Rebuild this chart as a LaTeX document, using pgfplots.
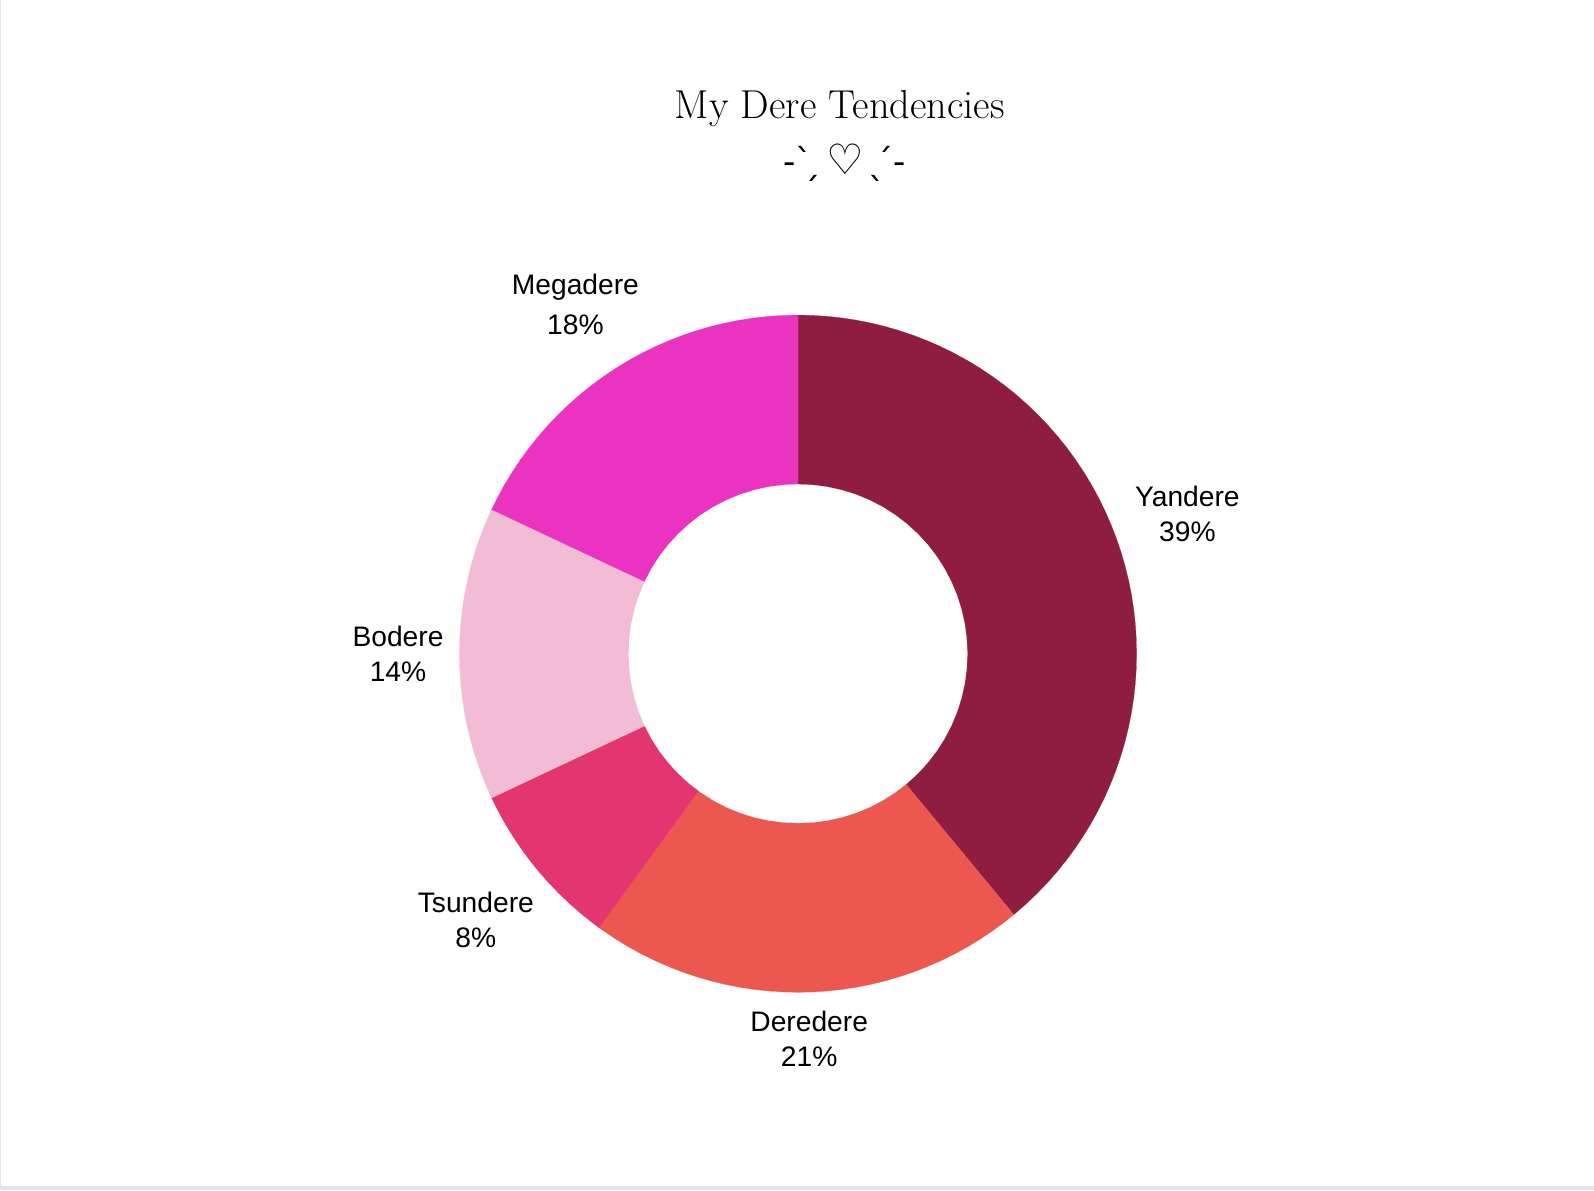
\documentclass[border=0pt]{standalone}
\usepackage{fontspec}
\setmainfont{Liberation Sans}
\newfontfamily\symfont{DejaVu Sans}
\newfontfamily\titlefont{Latin Modern Roman}
\usepackage{pgfplots}
\pgfplotsset{compat=1.18}
\definecolor{yandere}{HTML}{8F1D3F}
\definecolor{deredere}{HTML}{EC5750}
\definecolor{tsundere}{HTML}{E33570}
\definecolor{bodere}{HTML}{F2BCD4}
\definecolor{megadere}{HTML}{EB33C1}
\definecolor{edge}{HTML}{E3E3EB}
\begin{document}
\begin{tikzpicture}[lbl/.style={anchor=base,inner sep=0pt,font=\fontsize{14.1}{17}\selectfont}]
% page, 1pt = 2px of the reference
\fill[white] (0,0) rectangle (797pt,595pt);
\fill[edge] (0,0) rectangle (0.6pt,595pt);
\fill[edge] (0,0) rectangle (797pt,2pt);
\begin{axis}[
at={(0,0)},anchor=south west,
scale only axis,
x=0.5pt,y=0.5pt,
xmin=-798,xmax=796,
ymin=-536.3,ymax=653.7,
hide axis,
clip=false,
]
% Yandere 39%
\addplot[data cs=polar,fill=yandere,draw=yandere,line width=0.1pt] coordinates {
(0,0) (90,338.6) (87.5,338.6) (85,338.6) (82.5,338.6) (80,338.6) (77.5,338.6) (75,338.6)
(72.5,338.6) (70,338.6) (67.5,338.6) (65,338.6) (62.5,338.6) (60,338.6) (57.5,338.6)
(55,338.6) (52.5,338.6) (50,338.6) (47.5,338.6) (45,338.6) (42.5,338.6) (40,338.6)
(37.5,338.6) (35,338.6) (32.5,338.6) (30,338.6) (27.5,338.6) (25,338.6) (22.5,338.6)
(20,338.6) (17.5,338.6) (15,338.6) (12.5,338.6) (10,338.6) (7.5,338.6) (5,338.6)
(2.5,338.6) (0,338.6) (-2.5,338.6) (-5,338.6) (-7.5,338.6) (-10,338.6) (-12.5,338.6)
(-15,338.6) (-17.5,338.6) (-20,338.6) (-22.5,338.6) (-25,338.6) (-27.5,338.6) (-30,338.6)
(-32.5,338.6) (-35,338.6) (-37.5,338.6) (-40,338.6) (-42.5,338.6) (-45,338.6) (-47.5,338.6)
(-50.4,338.6)
} --cycle;
% Deredere 21%
\addplot[data cs=polar,fill=deredere,draw=deredere,line width=0.1pt] coordinates {
(0,0) (-50.4,338.6) (-52.5,338.6) (-55,338.6) (-57.5,338.6) (-60,338.6) (-62.5,338.6)
(-65,338.6) (-67.5,338.6) (-70,338.6) (-72.5,338.6) (-75,338.6) (-77.5,338.6) (-80,338.6)
(-82.5,338.6) (-85,338.6) (-87.5,338.6) (-90,338.6) (-92.5,338.6) (-95,338.6) (-97.5,338.6)
(-100,338.6) (-102.5,338.6) (-105,338.6) (-107.5,338.6) (-110,338.6) (-112.5,338.6)
(-115,338.6) (-117.5,338.6) (-120,338.6) (-122.5,338.6) (-126,338.6)
} --cycle;
% Tsundere 8%
\addplot[data cs=polar,fill=tsundere,draw=tsundere,line width=0.1pt] coordinates {
(0,0) (-126,338.6) (-127.5,338.6) (-130,338.6) (-132.5,338.6) (-135,338.6) (-137.5,338.6)
(-140,338.6) (-142.5,338.6) (-145,338.6) (-147.5,338.6) (-150,338.6) (-152.5,338.6)
(-154.8,338.6)
} --cycle;
% Bodere 14%
\addplot[data cs=polar,fill=bodere,draw=bodere,line width=0.1pt] coordinates {
(0,0) (-154.8,338.6) (-157.5,338.6) (-160,338.6) (-162.5,338.6) (-165,338.6) (-167.5,338.6)
(-170,338.6) (-172.5,338.6) (-175,338.6) (-177.5,338.6) (-180,338.6) (-182.5,338.6)
(-185,338.6) (-187.5,338.6) (-190,338.6) (-192.5,338.6) (-195,338.6) (-197.5,338.6)
(-200,338.6) (-202.5,338.6) (-205.2,338.6)
} --cycle;
% Megadere 18%
\addplot[data cs=polar,fill=megadere,draw=megadere,line width=0.1pt] coordinates {
(0,0) (-205.2,338.6) (-207.5,338.6) (-210,338.6) (-212.5,338.6) (-215,338.6) (-217.5,338.6)
(-220,338.6) (-222.5,338.6) (-225,338.6) (-227.5,338.6) (-230,338.6) (-232.5,338.6)
(-235,338.6) (-237.5,338.6) (-240,338.6) (-242.5,338.6) (-245,338.6) (-247.5,338.6)
(-250,338.6) (-252.5,338.6) (-255,338.6) (-257.5,338.6) (-260,338.6) (-262.5,338.6)
(-265,338.6) (-267.5,338.6) (-270,338.6)
} --cycle;
% hole
\addplot[data cs=polar,fill=white,draw=white,line width=0.1pt] coordinates {
(0,169.3) (5,169.3) (10,169.3) (15,169.3) (20,169.3) (25,169.3) (30,169.3) (35,169.3)
(40,169.3) (45,169.3) (50,169.3) (55,169.3) (60,169.3) (65,169.3) (70,169.3) (75,169.3)
(80,169.3) (85,169.3) (90,169.3) (95,169.3) (100,169.3) (105,169.3) (110,169.3) (115,169.3)
(120,169.3) (125,169.3) (130,169.3) (135,169.3) (140,169.3) (145,169.3) (150,169.3) (155,169.3)
(160,169.3) (165,169.3) (170,169.3) (175,169.3) (180,169.3) (185,169.3) (190,169.3) (195,169.3)
(200,169.3) (205,169.3) (210,169.3) (215,169.3) (220,169.3) (225,169.3) (230,169.3) (235,169.3)
(240,169.3) (245,169.3) (250,169.3) (255,169.3) (260,169.3) (265,169.3) (270,169.3) (275,169.3)
(280,169.3) (285,169.3) (290,169.3) (295,169.3) (300,169.3) (305,169.3) (310,169.3) (315,169.3)
(320,169.3) (325,169.3) (330,169.3) (335,169.3) (340,169.3) (345,169.3) (350,169.3) (355,169.3)
} --cycle;
% labels
\node[lbl] at (axis cs:389.4,147.4) {Yandere};
\node[lbl] at (axis cs:389.4,111.8) {39\%};
\node[lbl] at (axis cs:11.2,-378.2) {Deredere};
\node[lbl] at (axis cs:11.2,-412.7) {21\%};
\node[lbl] at (axis cs:-322.2,-259.2) {Tsundere};
\node[lbl] at (axis cs:-322.2,-293.8) {8\%};
\node[lbl] at (axis cs:-400,7.1) {Bodere};
\node[lbl] at (axis cs:-400,-27.4) {14\%};
\node[lbl] at (axis cs:-222.6,358.9) {Megadere};
\node[lbl] at (axis cs:-222.6,319.2) {18\%};
% title
\node[anchor=center,inner sep=0pt] at (axis cs:41.7,545) {\titlefont\fontsize{20.2}{22}\selectfont My Dere Tendencies};
\node[anchor=base,inner sep=0pt] at (axis cs:4.1,480) {\symfont\fontsize{17}{20}\selectfont -ˋ\kern-4.5ptˏ};
\node[anchor=base,inner sep=0pt] at (axis cs:47.8,478.8) {\symfont\fontsize{21}{24}\selectfont ♡};
\node[anchor=base,inner sep=0pt] at (axis cs:89,480) {\symfont\fontsize{17}{20}\selectfont ˎ\kern-4.5ptˊ-};
\end{axis}
\end{tikzpicture}
\end{document}
